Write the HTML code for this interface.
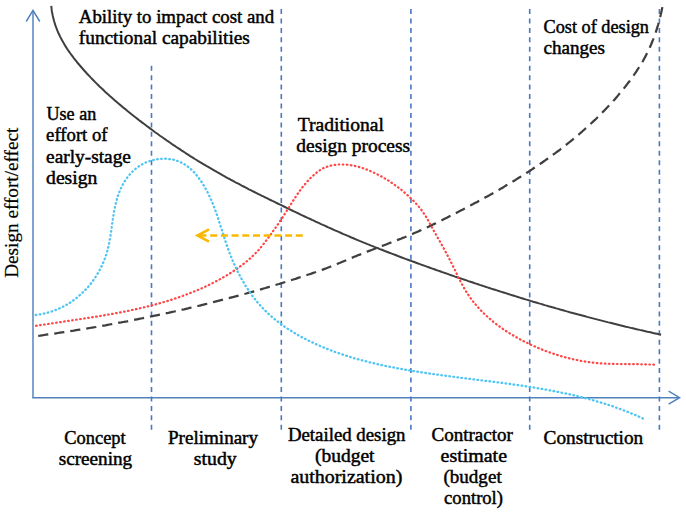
<!DOCTYPE html>
<html><head><meta charset="utf-8"><style>
html,body{margin:0;padding:0;background:#fff;}
svg{display:block;}
text{font-family:"Liberation Serif",serif;font-size:18px;fill:#000;stroke:#000;stroke-width:0.45px;}
</style></head><body>
<svg width="686" height="514" viewBox="0 0 686 514">
<rect width="686" height="514" fill="#fff"/>
<path d="M33,397.6 V10.8" stroke="#4F81BD" stroke-width="1.45" fill="none"/>
<path d="M26.2,21.5 L33,10.3 L39.8,21.5" stroke="#4F81BD" stroke-width="1.45" fill="none" stroke-linejoin="miter"/>
<path d="M32.2,397.7 H679" stroke="#4F81BD" stroke-width="1.45" fill="none"/>
<path d="M668.6,391.2 L679.6,397.7 L668.6,404.2" stroke="#4F81BD" stroke-width="1.45" fill="none"/>
<path d="M151.5,65.7 V430.4" stroke="#4878C2" stroke-width="1.6" stroke-dasharray="5 4.45" fill="none"/>
<path d="M281.3,9 V430.4" stroke="#4878C2" stroke-width="1.6" stroke-dasharray="5 4.45" fill="none"/>
<path d="M410.9,9 V430.4" stroke="#4878C2" stroke-width="1.6" stroke-dasharray="5 4.45" fill="none"/>
<path d="M529.7,9 V430.4" stroke="#4878C2" stroke-width="1.6" stroke-dasharray="5 4.45" fill="none"/>
<path d="M659.4,9 V430.4" stroke="#4878C2" stroke-width="1.6" stroke-dasharray="5 4.45" fill="none"/>
<path d="M51.3,5.8 L51.5,7.9 L51.7,9.9 L52.0,12.0 L52.4,14.0 L52.8,16.0 L53.3,17.9 L53.8,19.9 L54.3,21.8 L54.9,23.7 L55.5,25.6 L56.2,27.5 L56.9,29.4 L57.6,31.2 L58.4,33.0 L59.3,34.8 L60.1,36.6 L61.0,38.3 L61.9,40.1 L62.9,41.8 L63.9,43.5 L64.9,45.2 L65.9,46.9 L67.0,48.6 L68.1,50.2 L69.2,51.9 L70.4,53.5 L71.6,55.1 L72.8,56.7 L74.0,58.3 L75.2,59.8 L76.5,61.4 L77.7,63.0 L79.0,64.5 L80.3,66.0 L81.6,67.5 L82.9,69.0 L84.2,70.5 L85.6,72.0 L86.9,73.5 L88.3,75.0 L89.7,76.4 L91.0,77.9 L92.4,79.3 L93.8,80.7 L95.2,82.1 L96.7,83.6 L98.1,85.0 L99.5,86.4 L101.0,87.7 L102.4,89.1 L103.9,90.5 L105.3,91.9 L106.8,93.2 L108.3,94.6 L109.8,95.9 L111.3,97.2 L112.8,98.6 L114.3,99.9 L115.8,101.2 L117.3,102.5 L118.8,103.8 L120.4,105.1 L121.9,106.4 L123.5,107.7 L125.0,108.9 L126.6,110.2 L128.1,111.5 L129.7,112.7 L131.2,114.0 L132.8,115.2 L134.4,116.5 L136.0,117.7 L137.5,118.9 L139.1,120.2 L140.7,121.4 L142.3,122.6 L143.9,123.8 L145.5,125.0 L147.1,126.2 L148.7,127.4 L150.3,128.6 L151.9,129.8 L153.5,131.0 L155.1,132.2 L156.7,133.3 L158.4,134.5 L160.0,135.7 L161.6,136.8 L163.3,138.0 L164.9,139.1 L166.5,140.3 L168.2,141.4 L169.8,142.5 L171.5,143.7 L173.1,144.8 L174.8,145.9 L176.4,147.0 L178.1,148.1 L179.8,149.2 L181.4,150.3 L183.1,151.4 L184.8,152.5 L186.4,153.6 L188.1,154.7 L189.8,155.8 L191.5,156.8 L193.2,157.9 L194.9,159.0 L196.6,160.0 L198.3,161.1 L200.0,162.1 L201.7,163.1 L203.4,164.2 L205.1,165.2 L206.8,166.2 L208.6,167.2 L210.3,168.2 L212.0,169.2 L213.7,170.2 L215.5,171.2 L217.2,172.2 L219.0,173.2 L220.7,174.2 L222.4,175.2 L224.2,176.1 L225.9,177.1 L227.7,178.1 L229.5,179.0 L231.2,180.0 L233.0,180.9 L234.7,181.9 L236.5,182.8 L238.3,183.7 L240.1,184.7 L241.8,185.6 L243.6,186.5 L245.4,187.4 L247.2,188.3 L248.9,189.3 L250.7,190.2 L252.5,191.1 L254.3,192.0 L256.1,192.9 L257.9,193.8 L259.7,194.7 L261.5,195.6 L263.3,196.4 L265.1,197.3 L266.9,198.2 L268.7,199.1 L270.5,200.0 L272.3,200.9 L274.1,201.7 L275.9,202.6 L277.7,203.5 L279.5,204.4 L281.3,205.2 L283.1,206.1 L284.9,207.0 L286.7,207.9 L288.5,208.7 L290.3,209.6 L292.1,210.5 L293.9,211.3 L295.7,212.2 L297.5,213.0 L299.3,213.9 L301.1,214.8 L302.9,215.6 L304.7,216.5 L306.5,217.3 L308.3,218.2 L310.2,219.0 L312.0,219.9 L313.8,220.7 L315.6,221.6 L317.4,222.4 L319.2,223.2 L321.0,224.1 L322.9,224.9 L324.7,225.7 L326.5,226.5 L328.3,227.4 L330.1,228.2 L332.0,229.0 L333.8,229.8 L335.6,230.6 L337.5,231.4 L339.3,232.2 L341.1,233.0 L342.9,233.8 L344.8,234.6 L346.6,235.4 L348.5,236.2 L350.3,237.0 L352.1,237.8 L354.0,238.5 L355.8,239.3 L357.7,240.1 L359.5,240.9 L361.4,241.6 L363.2,242.4 L365.1,243.1 L366.9,243.9 L368.8,244.6 L370.6,245.4 L372.5,246.1 L374.4,246.9 L376.2,247.6 L378.1,248.3 L379.9,249.1 L381.8,249.8 L383.7,250.5 L385.5,251.3 L387.4,252.0 L389.3,252.7 L391.1,253.4 L393.0,254.1 L394.9,254.8 L396.7,255.5 L398.6,256.3 L400.5,257.0 L402.4,257.7 L404.2,258.4 L406.1,259.1 L408.0,259.8 L409.9,260.5 L411.7,261.1 L413.6,261.8 L415.5,262.5 L417.4,263.2 L419.3,263.9 L421.1,264.6 L423.0,265.3 L424.9,265.9 L426.8,266.6 L428.7,267.3 L430.6,268.0 L432.5,268.6 L434.3,269.3 L436.2,270.0 L438.1,270.6 L440.0,271.3 L441.9,272.0 L443.8,272.6 L445.7,273.3 L447.6,273.9 L449.4,274.6 L451.3,275.3 L453.2,275.9 L455.1,276.6 L457.0,277.2 L458.9,277.9 L460.8,278.5 L462.7,279.1 L464.6,279.8 L466.5,280.4 L468.4,281.1 L470.3,281.7 L472.2,282.3 L474.1,283.0 L476.0,283.6 L477.9,284.2 L479.8,284.9 L481.7,285.5 L483.6,286.1 L485.5,286.7 L487.4,287.4 L489.3,288.0 L491.2,288.6 L493.1,289.2 L495.0,289.8 L496.9,290.4 L498.8,291.0 L500.7,291.6 L502.6,292.2 L504.5,292.8 L506.4,293.4 L508.3,294.0 L510.2,294.6 L512.1,295.2 L514.1,295.8 L516.0,296.4 L517.9,297.0 L519.8,297.6 L521.7,298.2 L523.6,298.8 L525.5,299.4 L527.4,299.9 L529.4,300.5 L531.3,301.1 L533.2,301.7 L535.1,302.2 L537.0,302.8 L538.9,303.4 L540.9,303.9 L542.8,304.5 L544.7,305.1 L546.6,305.6 L548.5,306.2 L550.5,306.7 L552.4,307.3 L554.3,307.8 L556.2,308.4 L558.2,308.9 L560.1,309.5 L562.0,310.0 L563.9,310.5 L565.9,311.1 L567.8,311.6 L569.7,312.2 L571.6,312.7 L573.6,313.2 L575.5,313.7 L577.4,314.3 L579.4,314.8 L581.3,315.3 L583.2,315.8 L585.2,316.3 L587.1,316.9 L589.0,317.4 L591.0,317.9 L592.9,318.4 L594.8,318.9 L596.8,319.4 L598.7,319.9 L600.7,320.4 L602.6,320.9 L604.5,321.4 L606.5,321.9 L608.4,322.4 L610.4,322.8 L612.3,323.3 L614.2,323.8 L616.2,324.3 L618.1,324.8 L620.1,325.3 L622.0,325.7 L624.0,326.2 L625.9,326.7 L627.9,327.1 L629.8,327.6 L631.8,328.1 L633.7,328.5 L635.7,329.0 L637.6,329.4 L639.6,329.9 L641.5,330.3 L643.5,330.8 L645.4,331.2 L647.4,331.7 L649.3,332.1 L651.3,332.5 L653.2,333.0 L655.2,333.4 L657.2,333.8 L659.1,334.3 L661.1,334.7" stroke="#3F3F3F" stroke-width="2" fill="none"/>
<path d="M38.2,335.8 L40.2,335.6 L42.2,335.3 L44.2,335.0 L46.1,334.7 L48.1,334.4 L50.1,334.2 L52.1,333.9 L54.1,333.6 L56.1,333.3 L58.0,333.0 L60.0,332.7 L62.0,332.4 L64.0,332.1 L66.0,331.8 L68.0,331.5 L69.9,331.2 L71.9,330.9 L73.9,330.6 L75.9,330.2 L77.9,329.9 L79.8,329.6 L81.8,329.3 L83.8,329.0 L85.8,328.6 L87.8,328.3 L89.7,328.0 L91.7,327.7 L93.7,327.3 L95.7,327.0 L97.6,326.6 L99.6,326.3 L101.6,326.0 L103.6,325.6 L105.5,325.3 L107.5,324.9 L109.5,324.5 L111.5,324.2 L113.4,323.8 L115.4,323.5 L117.4,323.1 L119.3,322.7 L121.3,322.4 L123.3,322.0 L125.3,321.6 L127.2,321.3 L129.2,320.9 L131.2,320.5 L133.1,320.1 L135.1,319.7 L137.1,319.3 L139.0,318.9 L141.0,318.5 L143.0,318.2 L144.9,317.8 L146.9,317.4 L148.8,317.0 L150.8,316.5 L152.8,316.1 L154.7,315.7 L156.7,315.3 L158.7,314.9 L160.6,314.5 L162.6,314.1 L164.5,313.6 L166.5,313.2 L168.4,312.8 L170.4,312.3 L172.4,311.9 L174.3,311.5 L176.3,311.0 L178.2,310.6 L180.2,310.2 L182.1,309.7 L184.1,309.3 L186.0,308.8 L188.0,308.4 L189.9,307.9 L191.9,307.4 L193.8,307.0 L195.8,306.5 L197.7,306.0 L199.7,305.6 L201.6,305.1 L203.6,304.6 L205.5,304.1 L207.5,303.7 L209.4,303.2 L211.4,302.7 L213.3,302.2 L215.2,301.7 L217.2,301.2 L219.1,300.7 L221.1,300.2 L223.0,299.7 L225.0,299.2 L226.9,298.7 L228.8,298.2 L230.8,297.7 L232.7,297.2 L234.6,296.6 L236.6,296.1 L238.5,295.6 L240.4,295.1 L242.4,294.5 L244.3,294.0 L246.2,293.5 L248.2,292.9 L250.1,292.4 L252.0,291.9 L254.0,291.3 L255.9,290.8 L257.8,290.2 L259.7,289.7 L261.7,289.1 L263.6,288.5 L265.5,288.0 L267.4,287.4 L269.4,286.8 L271.3,286.3 L273.2,285.7 L275.1,285.1 L277.1,284.5 L279.0,284.0 L280.9,283.4 L282.8,282.8 L284.7,282.2 L286.6,281.6 L288.5,281.0 L290.5,280.4 L292.4,279.8 L294.3,279.2 L296.2,278.6 L298.1,277.9 L300.0,277.3 L301.9,276.7 L303.8,276.1 L305.7,275.5 L307.6,274.8 L309.5,274.2 L311.4,273.6 L313.3,272.9 L315.2,272.3 L317.1,271.6 L319.0,271.0 L320.8,270.3 L322.7,269.6 L324.6,268.9 L326.5,268.2 L328.3,267.5 L330.2,266.8 L332.1,266.1 L333.9,265.3 L335.8,264.6 L337.6,263.8 L339.5,263.0 L341.3,262.3 L343.1,261.5 L345.0,260.7 L346.8,259.9 L348.7,259.1 L350.5,258.4 L352.4,257.6 L354.2,256.8 L356.1,256.1 L357.9,255.3 L359.8,254.6 L361.6,253.8 L363.5,253.1 L365.3,252.3 L367.2,251.6 L369.1,250.9 L371.0,250.2 L372.8,249.5 L374.7,248.7 L376.6,248.0 L378.5,247.3 L380.3,246.6 L382.2,245.9 L384.1,245.2 L386.0,244.5 L387.8,243.7 L389.7,243.0 L391.6,242.3 L393.5,241.6 L395.3,240.9 L397.2,240.1 L399.1,239.4 L400.9,238.7 L402.8,237.9 L404.7,237.2 L406.5,236.4 L408.4,235.6 L410.2,234.9 L412.1,234.1 L413.9,233.3 L415.7,232.5 L417.6,231.7 L419.4,230.9 L421.2,230.1 L423.0,229.2 L424.8,228.4 L426.7,227.6 L428.5,226.7 L430.3,225.9 L432.1,225.0 L433.9,224.1 L435.7,223.3 L437.5,222.4 L439.3,221.5 L441.1,220.6 L442.8,219.7 L444.6,218.8 L446.4,217.9 L448.2,217.0 L450.0,216.1 L451.8,215.2 L453.6,214.3 L455.3,213.4 L457.1,212.5 L458.9,211.6 L460.7,210.6 L462.5,209.7 L464.2,208.8 L466.0,207.8 L467.8,206.9 L469.6,206.0 L471.3,205.0 L473.1,204.1 L474.9,203.1 L476.7,202.2 L478.4,201.2 L480.2,200.3 L482.0,199.3 L483.7,198.3 L485.5,197.3 L487.2,196.4 L489.0,195.4 L490.7,194.4 L492.5,193.4 L494.2,192.4 L496.0,191.4 L497.7,190.4 L499.5,189.4 L501.2,188.4 L503.0,187.4 L504.7,186.4 L506.4,185.3 L508.1,184.3 L509.9,183.3 L511.6,182.2 L513.3,181.2 L515.0,180.2 L516.7,179.1 L518.4,178.0 L520.1,177.0 L521.8,175.9 L523.5,174.8 L525.2,173.8 L526.9,172.7 L528.6,171.6 L530.3,170.5 L532.0,169.4 L533.6,168.3 L535.3,167.2 L537.0,166.1 L538.6,164.9 L540.3,163.8 L541.9,162.7 L543.6,161.5 L545.2,160.4 L546.8,159.2 L548.5,158.1 L550.1,156.9 L551.7,155.7 L553.3,154.5 L555.0,153.4 L556.6,152.2 L558.2,151.0 L559.8,149.8 L561.3,148.6 L562.9,147.3 L564.5,146.1 L566.1,144.9 L567.6,143.6 L569.2,142.4 L570.8,141.1 L572.3,139.9 L573.8,138.6 L575.4,137.3 L576.9,136.0 L578.4,134.8 L579.9,133.5 L581.5,132.2 L583.0,130.8 L584.4,129.5 L585.9,128.2 L587.4,126.9 L588.9,125.5 L590.4,124.2 L591.8,122.8 L593.3,121.4 L594.7,120.1 L596.2,118.7 L597.6,117.3 L599.0,115.9 L600.4,114.5 L601.8,113.1 L603.2,111.6 L604.6,110.2 L606.0,108.7 L607.4,107.3 L608.8,105.8 L610.1,104.4 L611.5,102.9 L612.8,101.4 L614.2,99.9 L615.5,98.4 L616.8,96.9 L618.1,95.4 L619.4,93.8 L620.7,92.3 L622.0,90.7 L623.3,89.2 L624.5,87.6 L625.8,86.0 L627.0,84.4 L628.2,82.8 L629.5,81.2 L630.7,79.6 L631.8,78.0 L633.0,76.3 L634.2,74.7 L635.3,73.0 L636.4,71.4 L637.5,69.7 L638.6,68.0 L639.7,66.3 L640.7,64.6 L641.8,62.9 L642.8,61.2 L643.8,59.4 L644.7,57.7 L645.7,55.9 L646.6,54.1 L647.5,52.4 L648.3,50.6 L649.2,48.8 L650.0,47.0 L650.8,45.2 L651.6,43.3 L652.3,41.5 L653.1,39.6 L653.8,37.8 L654.5,35.9 L655.1,34.0 L655.8,32.2 L656.4,30.3 L657.0,28.4 L657.6,26.5 L658.2,24.5 L658.7,22.6 L659.2,20.7 L659.7,18.7 L660.2,16.8 L660.7,14.8 L661.1,12.9 L661.6,10.9 L662.0,8.9 L662.4,6.9" stroke="#3F3F3F" stroke-width="2.25" stroke-dasharray="10.2 6" fill="none"/>
<path d="M36.1,325.8 L38.1,325.5 L40.0,325.2 L42.0,324.9 L44.0,324.6 L45.9,324.3 L47.9,324.0 L49.9,323.7 L51.8,323.4 L53.8,323.1 L55.8,322.8 L57.8,322.5 L59.8,322.2 L61.7,321.9 L63.7,321.6 L65.7,321.3 L67.7,321.0 L69.7,320.7 L71.6,320.4 L73.6,320.1 L75.6,319.8 L77.6,319.5 L79.6,319.2 L81.6,318.9 L83.6,318.6 L85.5,318.3 L87.5,318.0 L89.5,317.7 L91.5,317.4 L93.5,317.1 L95.5,316.8 L97.5,316.4 L99.4,316.1 L101.4,315.8 L103.4,315.4 L105.4,315.1 L107.4,314.8 L109.3,314.4 L111.3,314.1 L113.3,313.7 L115.3,313.3 L117.3,313.0 L119.2,312.6 L121.2,312.2 L123.2,311.8 L125.1,311.5 L127.1,311.1 L129.1,310.7 L131.0,310.2 L133.0,309.8 L134.9,309.4 L136.9,309.0 L138.9,308.5 L140.8,308.1 L142.8,307.6 L144.7,307.2 L146.7,306.7 L148.6,306.2 L150.5,305.7 L152.5,305.2 L154.4,304.7 L156.3,304.2 L158.3,303.7 L160.2,303.1 L162.1,302.6 L164.0,302.0 L165.9,301.4 L167.8,300.9 L169.7,300.3 L171.6,299.7 L173.5,299.1 L175.4,298.4 L177.3,297.8 L179.2,297.2 L181.1,296.5 L183.0,295.8 L184.8,295.1 L186.7,294.4 L188.6,293.7 L190.4,293.0 L192.3,292.3 L194.1,291.5 L196.0,290.8 L197.8,290.0 L199.6,289.2 L201.5,288.4 L203.3,287.6 L205.1,286.7 L206.9,285.9 L208.7,285.0 L210.5,284.1 L212.3,283.2 L214.1,282.3 L215.9,281.4 L217.7,280.4 L219.4,279.5 L221.2,278.5 L222.9,277.5 L224.7,276.5 L226.4,275.5 L228.2,274.4 L229.9,273.4 L231.6,272.3 L233.3,271.2 L235.0,270.0 L236.7,268.9 L238.3,267.7 L240.0,266.6 L241.6,265.4 L243.2,264.1 L244.8,262.9 L246.4,261.6 L247.9,260.3 L249.4,259.0 L250.9,257.7 L252.4,256.3 L253.8,255.0 L255.2,253.6 L256.6,252.1 L258.0,250.7 L259.3,249.2 L260.6,247.7 L261.8,246.2 L263.1,244.6 L264.3,243.1 L265.5,241.5 L266.7,239.9 L267.9,238.4 L269.0,236.8 L270.2,235.2 L271.4,233.6 L272.5,231.9 L273.7,230.3 L274.8,228.7 L276.0,227.1 L277.1,225.4 L278.3,223.8 L279.4,222.2 L280.5,220.5 L281.6,218.8 L282.7,217.1 L283.8,215.4 L284.9,213.7 L286.0,212.0 L287.0,210.3 L288.1,208.6 L289.2,206.9 L290.3,205.1 L291.4,203.4 L292.5,201.7 L293.6,200.0 L294.7,198.3 L295.8,196.6 L296.9,195.0 L298.1,193.3 L299.2,191.7 L300.4,190.0 L301.6,188.4 L302.8,186.8 L304.1,185.3 L305.4,183.7 L306.7,182.2 L308.0,180.7 L309.4,179.3 L310.8,177.8 L312.2,176.4 L313.7,175.1 L315.2,173.8 L316.7,172.5 L318.3,171.3 L319.9,170.2 L321.6,169.1 L323.4,168.2 L325.1,167.4 L327.0,166.7 L328.9,166.1 L330.8,165.6 L332.7,165.2 L334.7,164.9 L336.7,164.7 L338.7,164.5 L340.7,164.5 L342.7,164.5 L344.7,164.6 L346.7,164.7 L348.7,164.9 L350.7,165.2 L352.7,165.5 L354.6,165.9 L356.6,166.4 L358.5,166.9 L360.5,167.4 L362.4,168.0 L364.4,168.7 L366.3,169.4 L368.2,170.1 L370.1,170.9 L371.9,171.7 L373.8,172.6 L375.7,173.5 L377.5,174.4 L379.3,175.3 L381.1,176.3 L382.9,177.3 L384.6,178.3 L386.4,179.4 L388.1,180.4 L389.8,181.5 L391.4,182.6 L393.1,183.7 L394.7,184.9 L396.3,186.0 L397.9,187.2 L399.5,188.4 L401.1,189.6 L402.6,190.9 L404.1,192.2 L405.6,193.4 L407.1,194.8 L408.6,196.1 L410.0,197.5 L411.5,198.9 L412.9,200.3 L414.3,201.7 L415.7,203.2 L417.0,204.7 L418.3,206.2 L419.6,207.7 L420.9,209.3 L422.1,210.9 L423.2,212.5 L424.4,214.2 L425.5,215.9 L426.5,217.6 L427.5,219.3 L428.5,221.1 L429.5,222.9 L430.4,224.6 L431.4,226.4 L432.4,228.1 L433.3,229.9 L434.3,231.6 L435.3,233.4 L436.3,235.1 L437.2,236.8 L438.2,238.6 L439.2,240.3 L440.2,242.0 L441.2,243.8 L442.1,245.5 L443.1,247.3 L444.1,249.0 L445.0,250.8 L446.0,252.5 L446.9,254.3 L447.9,256.1 L448.8,257.8 L449.7,259.6 L450.6,261.4 L451.5,263.2 L452.4,265.0 L453.3,266.8 L454.2,268.6 L455.1,270.4 L455.9,272.3 L456.8,274.1 L457.7,275.9 L458.6,277.7 L459.5,279.5 L460.4,281.3 L461.4,283.1 L462.3,284.9 L463.3,286.6 L464.3,288.4 L465.3,290.1 L466.3,291.8 L467.4,293.5 L468.5,295.1 L469.6,296.8 L470.8,298.4 L471.9,300.0 L473.2,301.6 L474.4,303.1 L475.7,304.6 L477.0,306.1 L478.3,307.6 L479.6,309.1 L481.0,310.5 L482.4,312.0 L483.8,313.4 L485.2,314.7 L486.7,316.1 L488.2,317.4 L489.7,318.7 L491.2,320.0 L492.7,321.3 L494.3,322.6 L495.9,323.8 L497.5,325.0 L499.1,326.2 L500.7,327.4 L502.4,328.5 L504.0,329.7 L505.7,330.8 L507.4,331.9 L509.1,333.0 L510.8,334.0 L512.6,335.1 L514.3,336.1 L516.1,337.1 L517.8,338.1 L519.6,339.1 L521.4,340.0 L523.2,340.9 L525.0,341.9 L526.8,342.7 L528.6,343.6 L530.4,344.5 L532.2,345.3 L534.0,346.2 L535.9,347.0 L537.7,347.8 L539.6,348.6 L541.4,349.3 L543.3,350.1 L545.1,350.8 L547.0,351.5 L548.9,352.2 L550.8,352.8 L552.6,353.5 L554.5,354.1 L556.4,354.7 L558.3,355.3 L560.2,355.9 L562.1,356.5 L564.1,357.0 L566.0,357.5 L567.9,358.0 L569.8,358.5 L571.8,359.0 L573.7,359.4 L575.7,359.8 L577.6,360.2 L579.6,360.6 L581.5,361.0 L583.5,361.3 L585.5,361.6 L587.4,361.9 L589.4,362.2 L591.4,362.4 L593.4,362.7 L595.4,362.9 L597.4,363.1 L599.4,363.2 L601.4,363.4 L603.4,363.5 L605.5,363.6 L607.5,363.7 L609.5,363.8 L611.5,363.9 L613.5,363.9 L615.6,364.0 L617.6,364.0 L619.6,364.1 L621.7,364.1 L623.7,364.1 L625.7,364.1 L627.7,364.1 L629.7,364.2 L631.8,364.2 L633.8,364.2 L635.8,364.2 L637.8,364.2 L639.8,364.3 L641.8,364.3 L643.8,364.3 L645.8,364.4 L647.8,364.4 L649.7,364.5 L651.7,364.6 L653.6,364.7 L655.6,364.8" stroke="#FF4545" stroke-width="2.2" stroke-dasharray="0.6 3.45" stroke-linecap="round" fill="none"/>
<path d="M35.8,315.0 L37.9,314.7 L40.0,314.4 L42.0,314.0 L44.0,313.6 L46.0,313.1 L48.0,312.6 L50.0,312.0 L51.9,311.4 L53.8,310.7 L55.7,310.0 L57.6,309.2 L59.4,308.4 L61.2,307.6 L63.0,306.7 L64.8,305.8 L66.5,304.8 L68.2,303.8 L69.9,302.7 L71.5,301.6 L73.2,300.5 L74.8,299.3 L76.3,298.1 L77.9,296.8 L79.4,295.5 L80.9,294.2 L82.3,292.9 L83.8,291.5 L85.1,290.1 L86.5,288.6 L87.8,287.2 L89.1,285.7 L90.4,284.1 L91.6,282.6 L92.8,281.0 L94.0,279.4 L95.1,277.7 L96.2,276.0 L97.2,274.4 L98.2,272.6 L99.2,270.9 L100.1,269.2 L101.0,267.4 L101.9,265.6 L102.7,263.8 L103.5,261.9 L104.3,260.1 L105.0,258.2 L105.6,256.3 L106.3,254.4 L106.8,252.5 L107.4,250.6 L107.9,248.7 L108.4,246.7 L108.8,244.8 L109.2,242.8 L109.6,240.8 L109.9,238.8 L110.3,236.9 L110.6,234.9 L110.9,232.9 L111.2,230.9 L111.5,228.9 L111.8,226.8 L112.0,224.8 L112.3,222.8 L112.6,220.8 L112.9,218.8 L113.2,216.8 L113.5,214.8 L113.9,212.8 L114.2,210.9 L114.6,208.9 L115.0,206.9 L115.4,205.0 L115.9,203.0 L116.4,201.1 L116.9,199.2 L117.5,197.2 L118.1,195.3 L118.8,193.5 L119.5,191.6 L120.3,189.7 L121.1,187.9 L122.0,186.1 L123.0,184.3 L124.0,182.6 L125.0,180.9 L126.1,179.2 L127.3,177.5 L128.5,175.9 L129.8,174.4 L131.2,172.9 L132.6,171.5 L134.0,170.1 L135.5,168.8 L137.1,167.6 L138.7,166.4 L140.4,165.3 L142.2,164.3 L143.9,163.4 L145.8,162.5 L147.7,161.8 L149.6,161.1 L151.5,160.5 L153.5,160.0 L155.5,159.6 L157.5,159.2 L159.5,159.0 L161.5,158.8 L163.5,158.7 L165.5,158.7 L167.5,158.9 L169.5,159.1 L171.4,159.4 L173.4,159.7 L175.3,160.2 L177.1,160.8 L178.9,161.5 L180.7,162.3 L182.4,163.1 L184.1,164.1 L185.7,165.1 L187.3,166.2 L188.8,167.4 L190.3,168.7 L191.8,170.0 L193.2,171.4 L194.6,172.8 L195.9,174.3 L197.2,175.9 L198.4,177.5 L199.6,179.1 L200.8,180.8 L202.0,182.5 L203.0,184.2 L204.1,186.0 L205.1,187.8 L206.1,189.5 L207.1,191.3 L208.0,193.2 L208.9,195.0 L209.8,196.8 L210.6,198.6 L211.4,200.5 L212.2,202.3 L213.0,204.2 L213.7,206.0 L214.4,207.9 L215.1,209.8 L215.8,211.7 L216.5,213.5 L217.1,215.4 L217.8,217.3 L218.4,219.2 L219.0,221.1 L219.6,223.0 L220.2,224.9 L220.8,226.8 L221.5,228.7 L222.1,230.6 L222.7,232.5 L223.3,234.4 L223.9,236.3 L224.5,238.2 L225.1,240.1 L225.7,242.0 L226.3,243.9 L227.0,245.8 L227.6,247.7 L228.3,249.5 L229.0,251.4 L229.7,253.3 L230.4,255.2 L231.2,257.0 L231.9,258.9 L232.7,260.7 L233.5,262.6 L234.3,264.4 L235.1,266.2 L236.0,268.1 L236.9,269.9 L237.7,271.7 L238.6,273.5 L239.6,275.2 L240.5,277.0 L241.5,278.8 L242.5,280.5 L243.5,282.2 L244.5,284.0 L245.5,285.7 L246.6,287.4 L247.7,289.0 L248.8,290.7 L249.9,292.3 L251.1,294.0 L252.2,295.6 L253.4,297.2 L254.6,298.7 L255.9,300.3 L257.1,301.8 L258.4,303.4 L259.7,304.8 L261.1,306.3 L262.4,307.8 L263.8,309.2 L265.2,310.6 L266.6,312.0 L268.0,313.4 L269.5,314.7 L271.0,316.1 L272.5,317.4 L274.0,318.7 L275.6,319.9 L277.2,321.2 L278.8,322.4 L280.4,323.6 L282.0,324.8 L283.6,325.9 L285.3,327.1 L286.9,328.2 L288.6,329.3 L290.3,330.4 L292.0,331.4 L293.7,332.5 L295.5,333.5 L297.2,334.5 L298.9,335.5 L300.7,336.5 L302.4,337.4 L304.2,338.4 L306.0,339.3 L307.8,340.2 L309.6,341.1 L311.4,342.0 L313.2,342.8 L315.0,343.7 L316.8,344.5 L318.6,345.3 L320.4,346.1 L322.2,346.9 L324.1,347.7 L325.9,348.4 L327.8,349.2 L329.6,349.9 L331.5,350.6 L333.4,351.3 L335.2,352.0 L337.1,352.7 L339.0,353.3 L340.9,354.0 L342.7,354.6 L344.6,355.2 L346.5,355.8 L348.4,356.4 L350.3,357.0 L352.3,357.6 L354.2,358.2 L356.1,358.7 L358.0,359.3 L359.9,359.8 L361.9,360.3 L363.8,360.8 L365.7,361.3 L367.7,361.8 L369.6,362.3 L371.6,362.8 L373.5,363.2 L375.4,363.7 L377.4,364.2 L379.4,364.6 L381.3,365.0 L383.3,365.4 L385.2,365.9 L387.2,366.3 L389.2,366.7 L391.1,367.1 L393.1,367.4 L395.1,367.8 L397.0,368.2 L399.0,368.6 L401.0,368.9 L402.9,369.3 L404.9,369.6 L406.9,370.0 L408.9,370.3 L410.8,370.6 L412.8,371.0 L414.8,371.3 L416.8,371.6 L418.8,371.9 L420.7,372.2 L422.7,372.5 L424.7,372.8 L426.7,373.1 L428.7,373.4 L430.6,373.7 L432.6,374.0 L434.6,374.3 L436.6,374.5 L438.6,374.8 L440.6,375.1 L442.6,375.4 L444.5,375.6 L446.5,375.9 L448.5,376.1 L450.5,376.4 L452.5,376.7 L454.5,376.9 L456.5,377.2 L458.5,377.4 L460.4,377.7 L462.4,377.9 L464.4,378.2 L466.4,378.4 L468.4,378.7 L470.4,378.9 L472.4,379.2 L474.4,379.4 L476.4,379.7 L478.3,379.9 L480.3,380.2 L482.3,380.4 L484.3,380.7 L486.3,380.9 L488.3,381.1 L490.3,381.4 L492.2,381.7 L494.2,381.9 L496.2,382.2 L498.2,382.4 L500.2,382.7 L502.2,382.9 L504.1,383.2 L506.1,383.5 L508.1,383.7 L510.1,384.0 L512.1,384.3 L514.1,384.6 L516.0,384.8 L518.0,385.1 L520.0,385.4 L522.0,385.7 L523.9,386.0 L525.9,386.3 L527.9,386.6 L529.8,386.9 L531.8,387.2 L533.8,387.5 L535.8,387.9 L537.7,388.2 L539.7,388.5 L541.7,388.9 L543.6,389.2 L545.6,389.6 L547.5,389.9 L549.5,390.3 L551.5,390.6 L553.4,391.0 L555.4,391.4 L557.3,391.8 L559.3,392.2 L561.2,392.6 L563.2,393.0 L565.1,393.4 L567.1,393.8 L569.0,394.2 L571.0,394.7 L572.9,395.1 L574.8,395.6 L576.8,396.0 L578.7,396.5 L580.6,397.0 L582.6,397.5 L584.5,398.0 L586.4,398.5 L588.4,399.0 L590.3,399.5 L592.2,400.0 L594.1,400.6 L596.0,401.1 L598.0,401.7 L599.9,402.3 L601.8,402.8 L603.7,403.4 L605.6,404.0 L607.5,404.6 L609.4,405.3 L611.3,405.9 L613.2,406.5 L615.1,407.2 L617.0,407.9 L618.9,408.6 L620.8,409.3 L622.7,410.0 L624.5,410.7 L626.4,411.4 L628.3,412.1 L630.2,412.9 L632.0,413.7 L633.9,414.5 L635.8,415.2 L637.6,416.1 L639.5,416.9 L641.4,417.7 L643.2,418.6" stroke="#4CC5F4" stroke-width="2.3" stroke-dasharray="0.6 3.45" stroke-linecap="round" fill="none"/>
<path d="M302.8,235.5 H198" stroke="#FBB800" stroke-width="2.6" stroke-dasharray="7 3.7" fill="none"/>
<path d="M209,229.3 L197.5,235.5 L209,241.7" stroke="#FBB800" stroke-width="2.6" fill="none"/>
<text x="78.80" y="22.70" textLength="195.40" lengthAdjust="spacingAndGlyphs">Ability to impact cost and</text>
<text x="78.80" y="44.20" textLength="171.10" lengthAdjust="spacingAndGlyphs">functional capabilities</text>
<text x="46.50" y="119.80" textLength="49.70" lengthAdjust="spacingAndGlyphs">Use an</text>
<text x="46.10" y="141.10" textLength="61.50" lengthAdjust="spacingAndGlyphs">effort of</text>
<text x="46.10" y="162.70" textLength="84.80" lengthAdjust="spacingAndGlyphs">early-stage</text>
<text x="46.10" y="184.20" textLength="51.20" lengthAdjust="spacingAndGlyphs">design</text>
<text x="297.70" y="130.70" textLength="86.30" lengthAdjust="spacingAndGlyphs">Traditional</text>
<text x="296.30" y="151.80" textLength="113.80" lengthAdjust="spacingAndGlyphs">design process</text>
<text x="543.50" y="33.30" textLength="105.50" lengthAdjust="spacingAndGlyphs">Cost of design</text>
<text x="543.50" y="54.40" textLength="61.50" lengthAdjust="spacingAndGlyphs">changes</text>
<text x="64.30" y="444.20" textLength="61.40" lengthAdjust="spacingAndGlyphs">Concept</text>
<text x="58.70" y="464.60" textLength="73.50" lengthAdjust="spacingAndGlyphs">screening</text>
<text x="168.00" y="443.70" textLength="90.00" lengthAdjust="spacingAndGlyphs">Preliminary</text>
<text x="193.80" y="464.50" textLength="42.90" lengthAdjust="spacingAndGlyphs">study</text>
<text x="287.90" y="440.70" textLength="117.60" lengthAdjust="spacingAndGlyphs">Detailed design</text>
<text x="315.00" y="461.60" textLength="59.50" lengthAdjust="spacingAndGlyphs">(budget</text>
<text x="290.40" y="483.00" textLength="111.90" lengthAdjust="spacingAndGlyphs">authorization)</text>
<text x="431.50" y="440.50" textLength="81.40" lengthAdjust="spacingAndGlyphs">Contractor</text>
<text x="440.60" y="461.60" textLength="66.40" lengthAdjust="spacingAndGlyphs">estimate</text>
<text x="443.40" y="482.70" textLength="58.30" lengthAdjust="spacingAndGlyphs">(budget</text>
<text x="444.10" y="504.10" textLength="58.90" lengthAdjust="spacingAndGlyphs">control)</text>
<text x="543.60" y="443.80" textLength="99.60" lengthAdjust="spacingAndGlyphs">Construction</text>
<text style="font-size:18px;stroke-width:0.2px" transform="translate(17.80,277.80) rotate(-90)" x="0" y="0" textLength="150.20" lengthAdjust="spacingAndGlyphs">Design effort/effect</text>
</svg>
</body></html>
